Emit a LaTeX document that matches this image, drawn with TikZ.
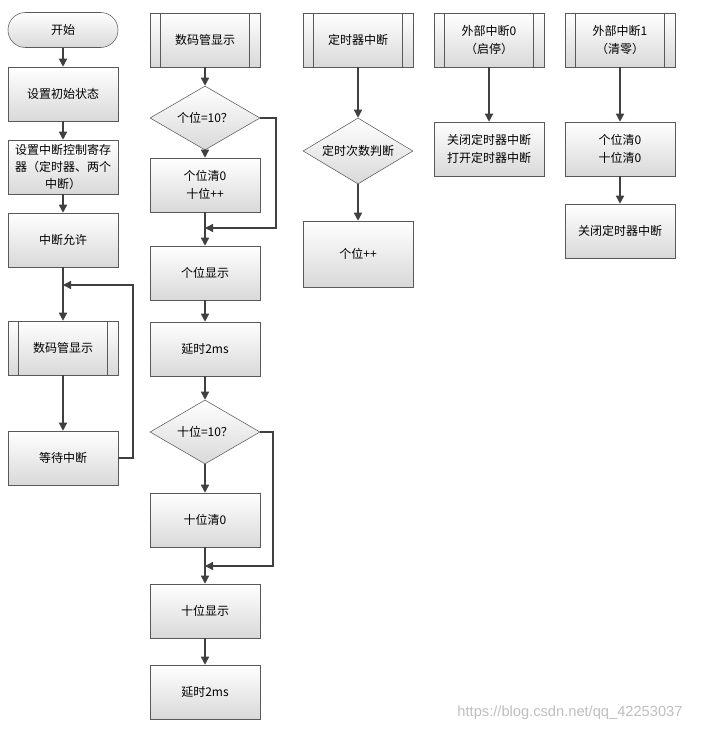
\documentclass[tikz,border=0pt]{standalone}
\usepackage{fontspec}
\setmainfont{Liberation Sans}
\newfontfamily\cjk{Noto Sans CJK SC}
\usetikzlibrary{shapes.geometric,arrows.meta}
\tikzset{
  box/.style={draw=black!65,top color=white,bottom color=black!15,
    minimum width=110*0.75pt,minimum height=54*0.75pt,inner sep=1pt,
    align=center,font=\cjk\fontsize{9}{13}\selectfont},
  term/.style={box,rounded corners=13pt},
  dec/.style={box,diamond,aspect=1.7,minimum width=110*0.75pt,minimum height=64*0.75pt,inner sep=0pt},
  flow/.style={draw=black!75,line width=1pt,-{Triangle[length=6pt,width=6pt]}},
  line/.style={draw=black!75,line width=1pt}
}
\newcommand{\sidebars}[1]{%
  \draw[black!65] ([xshift=8pt]#1.north west) -- ([xshift=8pt]#1.south west)
    ([xshift=-8pt]#1.north east) -- ([xshift=-8pt]#1.south east);}
\begin{document}
\begin{tikzpicture}[x=0.75pt,y=-0.75pt]
  \useasboundingbox[fill=white] (0,0) rectangle (704,731);
  % main
  \node[term,minimum height=35*0.75pt] (start) at (63,30) {开始};
  \node[box] (init) at (63,94) {设置初始状态};
  \node[box] (reg) at (63,167) {设置中断控制寄存\\器（定时器、两个\\中断）};
  \node[box] (en) at (63,240) {中断允许};
  \node[box] (disp) at (63,348) {数码管显示}; \sidebars{disp}
  \node[box] (wait) at (63,458) {等待中断};
  \coordinate (loop) at (63,285);
  \draw[flow] (start) -- (init);
  \draw[flow] (init) -- (reg);
  \draw[flow] (reg) -- (en);
  \draw[flow] (en) -- (disp);
  \draw[flow] (disp) -- (wait);
  \draw[flow] (wait.east) -| (133,285) -- (loop);
  % display routine
  \node[box] (sub) at (205,40) {数码管显示}; \sidebars{sub}
  \node[dec] (q1) at (205,118) {个位=10？};
  \node[box] (c1) at (205,185) {个位清0\\十位++};
  \node[box] (s1) at (205,273) {个位显示};
  \node[box] (d1) at (205,349) {延时2ms};
  \node[dec] (q2) at (205,432) {十位=10？};
  \node[box] (c2) at (205,520) {十位清0};
  \node[box] (s2) at (205,611) {十位显示};
  \node[box] (d2) at (205,692) {延时2ms};
  \coordinate (j1) at (205,228);
  \coordinate (j2) at (205,566);
  \draw[flow] (sub) -- (q1);
  \draw[flow] (q1) -- (c1);
  \draw[line] (c1) -- (j1);
  \draw[flow] (q1.east) -| (276,228) -- (j1);
  \draw[flow] (j1) -- (s1);
  \draw[flow] (s1) -- (d1);
  \draw[flow] (d1) -- (q2);
  \draw[flow] (q2) -- (c2);
  \draw[line] (c2) -- (j2);
  \draw[flow] (q2.east) -| (273,566) -- (j2);
  \draw[flow] (j2) -- (s2);
  \draw[flow] (s2) -- (d2);
  % timer
  \node[box] (tim) at (358,40) {定时器中断}; \sidebars{tim}
  \node[dec,minimum height=66*0.75pt] (cnt) at (358,151) {定时次数判断};
  \node[box,minimum height=66*0.75pt] (inc) at (358,254) {个位++};
  \draw[flow] (tim) -- (cnt);
  \draw[flow] (cnt) -- (inc);
  % ext 0
  \node[box] (ex0) at (489,40) {外部中断0\\（启停）}; \sidebars{ex0}
  \node[box] (tog) at (489,149) {关闭定时器中断\\打开定时器中断};
  \draw[flow] (ex0) -- (tog);
  % ext 1
  \node[box] (ex1) at (620,40) {外部中断1\\（清零）}; \sidebars{ex1}
  \node[box] (clr) at (620,149) {个位清0\\十位清0};
  \node[box] (off) at (620,231) {关闭定时器中断};
  \draw[flow] (ex1) -- (clr);
  \draw[flow] (clr) -- (off);
  \node[text=black!25,font=\fontsize{11}{13}\selectfont] (wm) at (570,713) {https://blog.csdn.net/qq\_42253037};
\end{tikzpicture}
\end{document}
